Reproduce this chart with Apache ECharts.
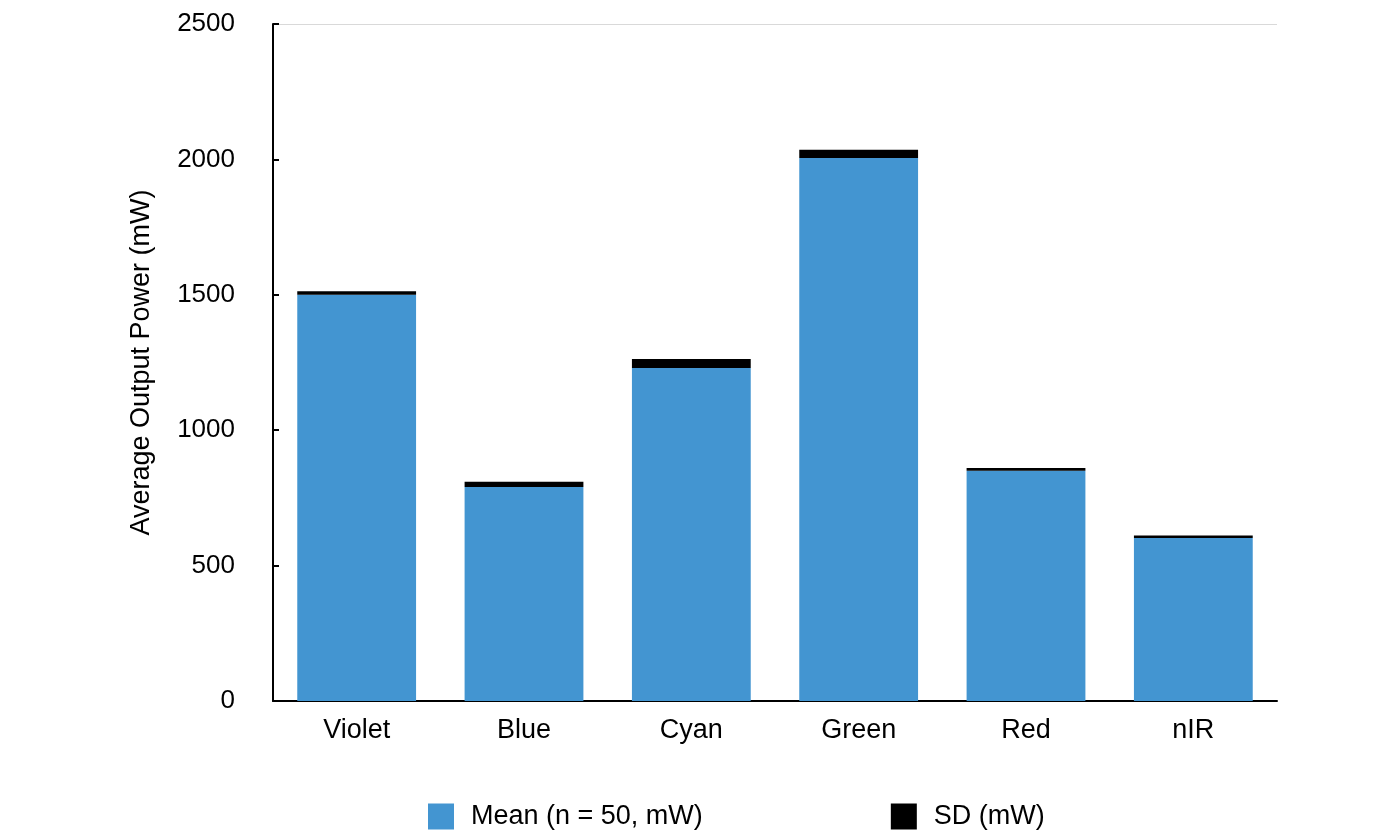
<!DOCTYPE html>
<html>
<head>
<meta charset="utf-8">
<script src="https://cdn.jsdelivr.net/npm/echarts@6/dist/echarts.min.js"></script>
<style>html,body{margin:0;padding:0;background:#fff;}#c{width:1400px;height:840px;}</style>
</head>
<body>
<div id="c"></div>
<script>
const categories = ['Violet', 'Blue', 'Cyan', 'Green', 'Red', 'nIR'];
const meanValues = [1500, 790, 1230, 2005, 850, 602];
const sdValues = [13, 20, 33, 31, 10, 9];
const yTicks = [0, 500, 1000, 1500, 2000, 2500];

const FONT = 'Liberation Sans, Arial, Helvetica, sans-serif';
const chart = echarts.init(document.getElementById('c'));
chart.setOption({
  animation: false,
  backgroundColor: '#ffffff',
  textStyle: { fontFamily: FONT, color: '#000' },
  grid: { left: 273, right: 123, top: 24, bottom: 139, containLabel: false },
  legend: {
    left: 428, top: 803, padding: 0,
    itemWidth: 26, itemHeight: 26, itemGap: 188,
    icon: 'rect',
    textStyle: { fontSize: 27, fontFamily: FONT, color: '#000', padding: [0, 0, 0, 12] },
    data: ['Mean (n = 50, mW)', 'SD (mW)']
  },
  xAxis: {
    type: 'category',
    data: categories,
    axisLine: { show: true, lineStyle: { color: '#000', width: 2 } },
    axisTick: { show: false },
    axisLabel: { fontSize: 27, color: '#000', margin: 16, fontFamily: FONT }
  },
  yAxis: {
    type: 'value',
    min: yTicks[0], max: yTicks[yTicks.length - 1], interval: 500,
    name: 'Average Output Power (mW)',
    nameLocation: 'middle',
    nameGap: 118,
    nameTextStyle: { fontSize: 27, color: '#000', fontFamily: FONT },
    axisLine: { show: true, lineStyle: { color: '#000', width: 2 } },
    axisTick: { show: true, inside: true, length: 6, lineStyle: { color: '#000', width: 2 } },
    axisLabel: { fontSize: 26, color: '#000', margin: 38, fontFamily: FONT, formatter: function (v) { return String(v); } },
    splitLine: { show: true, lineStyle: { color: ['rgba(0,0,0,0)', 'rgba(0,0,0,0)', 'rgba(0,0,0,0)', 'rgba(0,0,0,0)', 'rgba(0,0,0,0)', '#d9d9d9'], width: 1 } }
  },
  series: [
    {
      name: 'Mean (n = 50, mW)', type: 'bar', stack: 'p', data: meanValues,
      barWidth: '71%',
      itemStyle: { color: '#4395d1' }
    },
    {
      name: 'SD (mW)', type: 'bar', stack: 'p', data: sdValues,
      barWidth: '71%',
      itemStyle: { color: '#000000' }
    }
  ]
});
</script>
</body>
</html>
